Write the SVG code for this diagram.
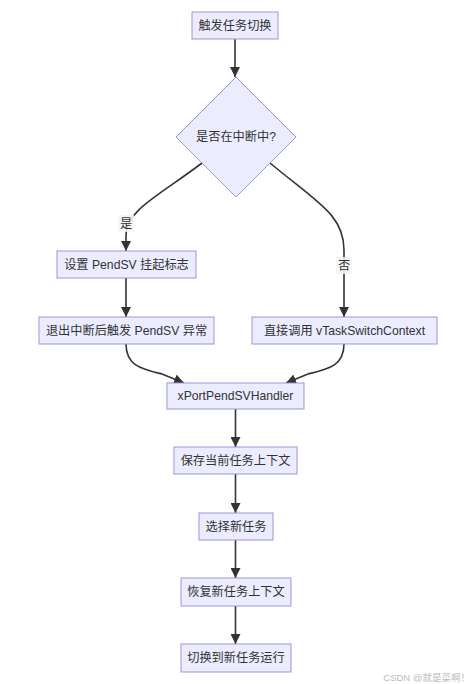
<svg xmlns="http://www.w3.org/2000/svg" width="474" height="684" viewBox="0 0 474 684">
<style>
.n{fill:#ECECFF;stroke:#9F93D6;stroke-width:1}
.t{font-family:"Liberation Sans","Noto Sans CJK SC",sans-serif;font-size:12.2px;fill:#333;text-anchor:middle;dominant-baseline:central}
.e{fill:none;stroke:#333;stroke-width:1.6}
.lbl{fill:#F4F4F4;fill-opacity:0.85}
</style>
<defs>
<marker id="ah" viewBox="0 0 10 10" refX="10" refY="5" markerWidth="10" markerHeight="10" markerUnits="userSpaceOnUse" orient="auto">
<path d="M0,0 L10,5 L0,10 z" fill="#333"/>
</marker>
</defs>
<rect x="0" y="0" width="474" height="684" fill="#fff"/>
<g id="connectors">
<path class="e" d="M235,39 L235,77" marker-end="url(#ah)"/>
<path class="e" d="M202,163 C160,195 126,210 126,235 L126,251" marker-end="url(#ah)"/>
<path class="e" d="M270,163 C318,203 344,215 344,250 L344,317" marker-end="url(#ah)"/>
<path class="e" d="M126,278 L126,317" marker-end="url(#ah)"/>
<path class="e" d="M126,344 C126,366 142,369 162,374 L184,383" marker-end="url(#ah)"/>
<path class="e" d="M344,344 C344,366 328,369 308,374 L286,383" marker-end="url(#ah)"/>
<path class="e" d="M235.5,409 L235.5,447" marker-end="url(#ah)"/>
<path class="e" d="M235.5,474 L235.5,513" marker-end="url(#ah)"/>
<path class="e" d="M235.5,540 L235.5,578" marker-end="url(#ah)"/>
<path class="e" d="M235.5,606 L235.5,644" marker-end="url(#ah)"/>
<rect class="lbl" x="118" y="215" width="16" height="17"/>
<text class="t" x="126" y="223.5">是</text>
<rect class="lbl" x="336" y="257" width="16" height="17"/>
<text class="t" x="344" y="265.5">否</text>
</g>
<g id="n1"><rect class="n" x="192" y="12" width="86" height="27"/><text class="t" x="235" y="25.5">触发任务切换</text></g>
<g id="n2"><path class="n" d="M236,77 L296,137 L236,197 L176,137 z"/><text class="t" x="236" y="137">是否在中断中?</text></g>
<g id="n3"><rect class="n" x="57" y="251" width="139" height="27"/><text class="t" x="126.5" y="264.5">设置 PendSV 挂起标志</text></g>
<g id="n4"><rect class="n" x="39" y="317" width="175" height="27"/><text class="t" x="126.5" y="330.5">退出中断后触发 PendSV 异常</text></g>
<g id="n5"><rect class="n" x="252" y="317" width="185" height="27"/><text class="t" x="344.5" y="330.5">直接调用 vTaskSwitchContext</text></g>
<g id="n6"><rect class="n" x="167" y="383" width="137" height="26"/><text class="t" x="235.5" y="396">xPortPendSVHandler</text></g>
<g id="n7"><rect class="n" x="174" y="447" width="123" height="27"/><text class="t" x="235.5" y="460.5">保存当前任务上下文</text></g>
<g id="n8"><rect class="n" x="199" y="513" width="74" height="27"/><text class="t" x="236" y="526.5">选择新任务</text></g>
<g id="n9"><rect class="n" x="181" y="578" width="110" height="28"/><text class="t" x="236" y="592">恢复新任务上下文</text></g>
<g id="n10"><rect class="n" x="181" y="644" width="110" height="28"/><text class="t" x="236" y="658">切换到新任务运行</text></g>
<text x="470" y="677" font-family="Liberation Sans,'Noto Sans CJK SC',sans-serif" font-size="9.5" fill="#BBBBBB" text-anchor="end" dominant-baseline="central">CSDN @就是菜啊！</text>
</svg>
